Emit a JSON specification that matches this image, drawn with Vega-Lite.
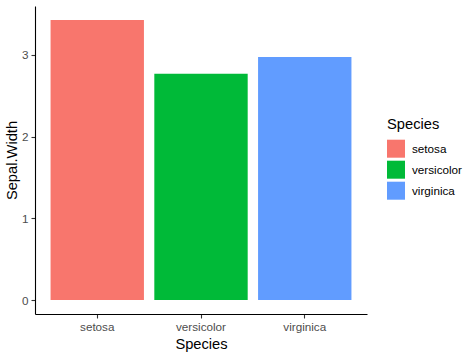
{
  "$schema": "https://vega.github.io/schema/vega-lite/v6.json",
  "width": 332,
  "height": 308,
  "autosize": {"type": "none"},
  "padding": {"left": 35, "top": 6, "right": 107, "bottom": 41},
  "background": "white",
  "config": {
    "view": {"stroke": null},
    "font": "Liberation Sans",
    "axis": {
      "grid": false,
      "domainColor": "#000000",
      "domainWidth": 1.1,
      "tickColor": "#333333",
      "tickSize": 4,
      "tickWidth": 1.1,
      "labelColor": "#4D4D4D",
      "labelFontSize": 11.7,
      "labelFont": "Liberation Sans",
      "titleFont": "Liberation Sans",
      "titleFontSize": 14.7,
      "titleFontWeight": "normal",
      "titleColor": "#000000"
    }
  },
  "data": {
    "values": [
      {"Species": "setosa", "Sepal.Width": 3.428},
      {"Species": "versicolor", "Sepal.Width": 2.770},
      {"Species": "virginica", "Sepal.Width": 2.974}
    ]
  },
  "mark": {"type": "bar"},
  "encoding": {
    "x": {
      "field": "Species",
      "type": "nominal",
      "scale": {"paddingInner": 0.1, "paddingOuter": 0.15},
      "axis": {"labelAngle": 0, "labelPadding": 3, "titlePadding": 4, "title": "Species"}
    },
    "y": {
      "field": "Sepal\\.Width",
      "type": "quantitative",
      "scale": {"domain": [-0.1714, 3.5994], "nice": false, "zero": false},
      "axis": {"values": [0, 1, 2, 3], "labelPadding": 3, "titlePadding": 2, "title": "Sepal.Width"}
    },
    "y2": {"datum": 0},
    "fill": {
      "field": "Species",
      "type": "nominal",
      "scale": {"range": ["#F8766D", "#00BA38", "#619CFF"]},
      "legend": {
        "orient": "none",
        "legendX": 352,
        "legendY": 111,
        "title": "Species",
        "titleFontSize": 14.7,
        "titleFontWeight": "normal",
        "titleColor": "#000000",
        "titlePadding": 8,
        "labelFontSize": 11.7,
        "labelColor": "#000000",
        "symbolType": "square",
        "symbolSize": 324,
        "symbolStrokeWidth": 0,
        "rowPadding": 3,
        "labelOffset": 7
      }
    }
  }
}
